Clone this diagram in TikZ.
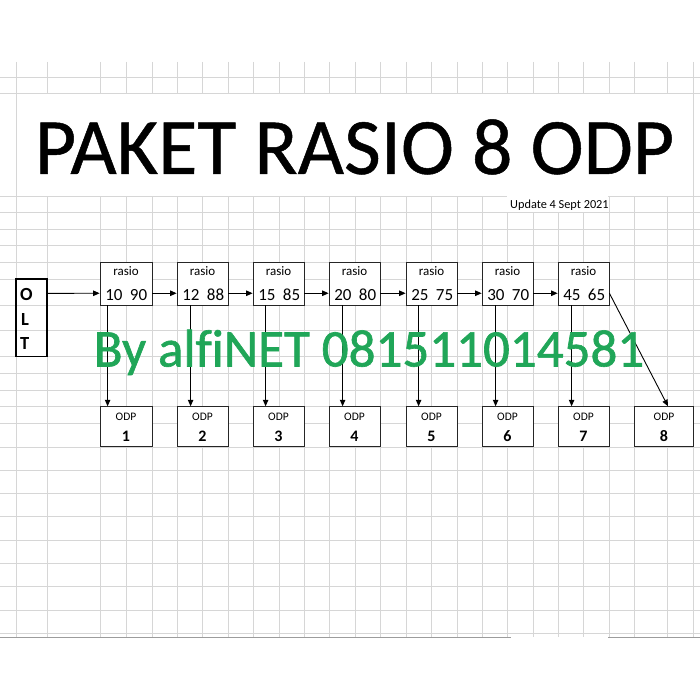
\documentclass[tikz,border=0pt]{standalone}
\usepackage{fontspec}
\setmainfont{Carlito}
\newfontfamily\wmfont[Ligatures=NoCommon,FakeBold=1.2]{Carlito}
\newfontfamily\titlefont[FakeBold=0.6]{Carlito}
\usetikzlibrary{arrows.meta}
\definecolor{gridc}{HTML}{D6D6D6}
\definecolor{borderc}{HTML}{9C9C9C}
\definecolor{wmgreen}{RGB}{32,166,88}
\begin{document}
\begin{tikzpicture}[x=1pt,y=-1pt,
  gridline/.style={draw=gridc,line width=0.7pt},
  box/.style={draw=black!85,line width=0.8pt,fill=white,inner sep=0pt},
  oltbox/.style={draw=black,line width=1.4pt,inner sep=0pt},
  arr/.style={draw=black,line width=0.9pt,-{Triangle[length=6.5pt,width=5.5pt]}},
  smalltxt/.style={inner sep=0pt,anchor=base,font=\fontsize{13}{13}\selectfont},
  numtxt/.style={inner sep=0pt,anchor=base,font=\fontsize{17}{17}\selectfont},
  odptxt/.style={inner sep=0pt,anchor=base,font=\fontsize{11.5}{12}\selectfont},
  odpnum/.style={inner sep=0pt,anchor=base,font=\bfseries\fontsize{16}{16}\selectfont},
  oltltr/.style={inner sep=0pt,anchor=base west,font=\bfseries\fontsize{18.5}{18}\selectfont}]
\useasboundingbox[fill=white] (0,0) rectangle (700,700);
% grid
\foreach \gx in {16,47,100,126,152,177,202,228,253,279,304,329,355,380,406,431,457,482,507,533,558,583,609,634,667,693}
  \draw[gridline] (\gx,62) -- (\gx,637);
\foreach \gy in {77,93,196,212.3,229,245.7,262.3,279,305,330,356.5,373.3,390,406.7,423,447,470,493.3,516.7,540,563.3,586.7,610.3,633.3}
  \draw[gridline] (0,\gy) -- (700,\gy);
\draw[draw=borderc,line width=1pt] (0,637.3) -- (510.7,637.3);
\draw[draw=borderc,line width=1pt] (608.3,637.3) -- (700,637.3);
% title area
\fill[white] (16.6,93.6) rectangle (692.4,195.6);
\node[inner sep=0pt,anchor=base,font=\titlefont\fontsize{80}{80}\selectfont] (title) at (354.5,174) {PAKET RASIO 8 ODP};
\fill[white] (506.5,196.5) rectangle (608.4,211.8);
\node[inner sep=0pt,anchor=base west,font=\fontsize{12.3}{13}\selectfont] (upd) at (510,209) {Update 4 Sept 2021};
% OLT
\node[oltbox,minimum width=31pt,minimum height=77.5pt] (olt) at (31.5,317.75) {};
\node[oltltr] (oO) at (20,300) {O};
\node[oltltr] (oL) at (21,325) {L};
\node[oltltr] (oT) at (20,349.5) {T};
% rasio boxes and ODP boxes
\foreach \i/\L/\R/\a/\b/\dx in {1/100/152/10/90/8,2/177/228/12/88/14,3/253/304/15/85/13,4/329/380/20/80/14,5/406/457/25/75/13,6/482/533/30/70/14,7/558/609/45/65/14}{
  \node[box,minimum width={\R-\L},minimum height=42.5pt] (r\i) at ({(\L+\R)/2},283.75) {};
  \node[smalltxt] (rt\i) at ({(\L+\R)/2},275.5) {rasio};
  \node[numtxt] (na\i) at ({\L+13.9},300) {\a};
  \node[numtxt] (nb\i) at ({\L+38.5},300) {\b};
  \node[box,minimum width={\R-\L},minimum height=39.5pt] (o\i) at ({(\L+\R)/2},426.4) {};
  \node[odptxt] (ot\i) at ({(\L+\R)/2},420) {ODP};
  \node[odpnum] (on\i) at ({(\L+\R)/2},441) {\i};
  \draw[arr] ([xshift=\dx pt]r\i.south west) -- ([xshift=\dx pt]o\i.north west);
}
\node[box,minimum width=59pt,minimum height=39.5pt] (o8) at (663.5,426.4) {};
\node[odptxt] (ot8) at (664,420) {ODP};
\node[odpnum] (on8) at (664,441) {8};
% horizontal arrows
\draw[arr] ([yshift=24.4pt]olt.east) -- ([yshift=-9.5pt]r1.west);
\foreach \i/\j in {1/2,2/3,3/4,4/5,5/6,6/7}
  \draw[arr] ([yshift=-9.5pt]r\i.east) -- ([yshift=-9.5pt]r\j.west);
\draw[arr] ([yshift=-9.5pt]r7.east) -- ([xshift=4.5pt]o8.north);
% watermark
\node[inner sep=0pt,anchor=base,text=wmgreen,font=\wmfont\fontsize{53}{53}\selectfont] (wm) at (369,366.5) {By alfiNET 081511014581};
\end{tikzpicture}
\end{document}
